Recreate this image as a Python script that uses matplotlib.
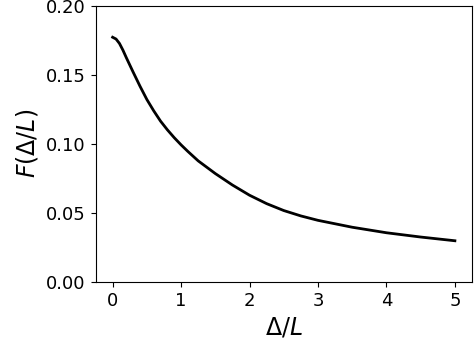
import matplotlib
matplotlib.use("Agg")
import matplotlib.pyplot as plt

x_vals = [0.0, 0.05, 0.1, 0.15, 0.2, 0.3, 0.4, 0.5, 0.6, 0.7, 0.8, 0.9, 1.0, 1.1, 1.25,
          1.5, 1.75, 2.0, 2.25, 2.5, 2.75, 3.0, 3.5, 4.0, 4.5, 5.0]
f_vals = [0.1773, 0.1760, 0.1728, 0.1680, 0.1625, 0.1520, 0.1418, 0.1322, 0.1240, 0.1165,
          0.1102, 0.1045, 0.0993, 0.0945, 0.0877, 0.0785, 0.0702, 0.0628, 0.0567, 0.0517,
          0.0478, 0.0446, 0.0396, 0.0356, 0.0325, 0.0298]

x_ticks = [0, 1, 2, 3, 4, 5]
y_ticks = [0.00, 0.05, 0.10, 0.15, 0.20]

fig = plt.figure(figsize=(4.74, 3.48), dpi=100)
ax = fig.add_axes([0.2015, 0.19, 0.7943, 0.793])
ax.plot(x_vals, f_vals, color="black", lw=2.0, solid_joinstyle="round")
ax.set_xlim(-0.25, 5.25)
ax.set_ylim(0, 0.20)
ax.set_xticks(x_ticks)
ax.set_yticks(y_ticks)
ax.set_yticklabels([f"{v:.2f}" for v in y_ticks])
ax.tick_params(labelsize=13)
ax.set_xlabel(r"$\Delta/L$", fontsize=17)
ax.set_ylabel(r"$F(\Delta/L)$", fontsize=17)
fig.savefig("out.png", dpi=100)
